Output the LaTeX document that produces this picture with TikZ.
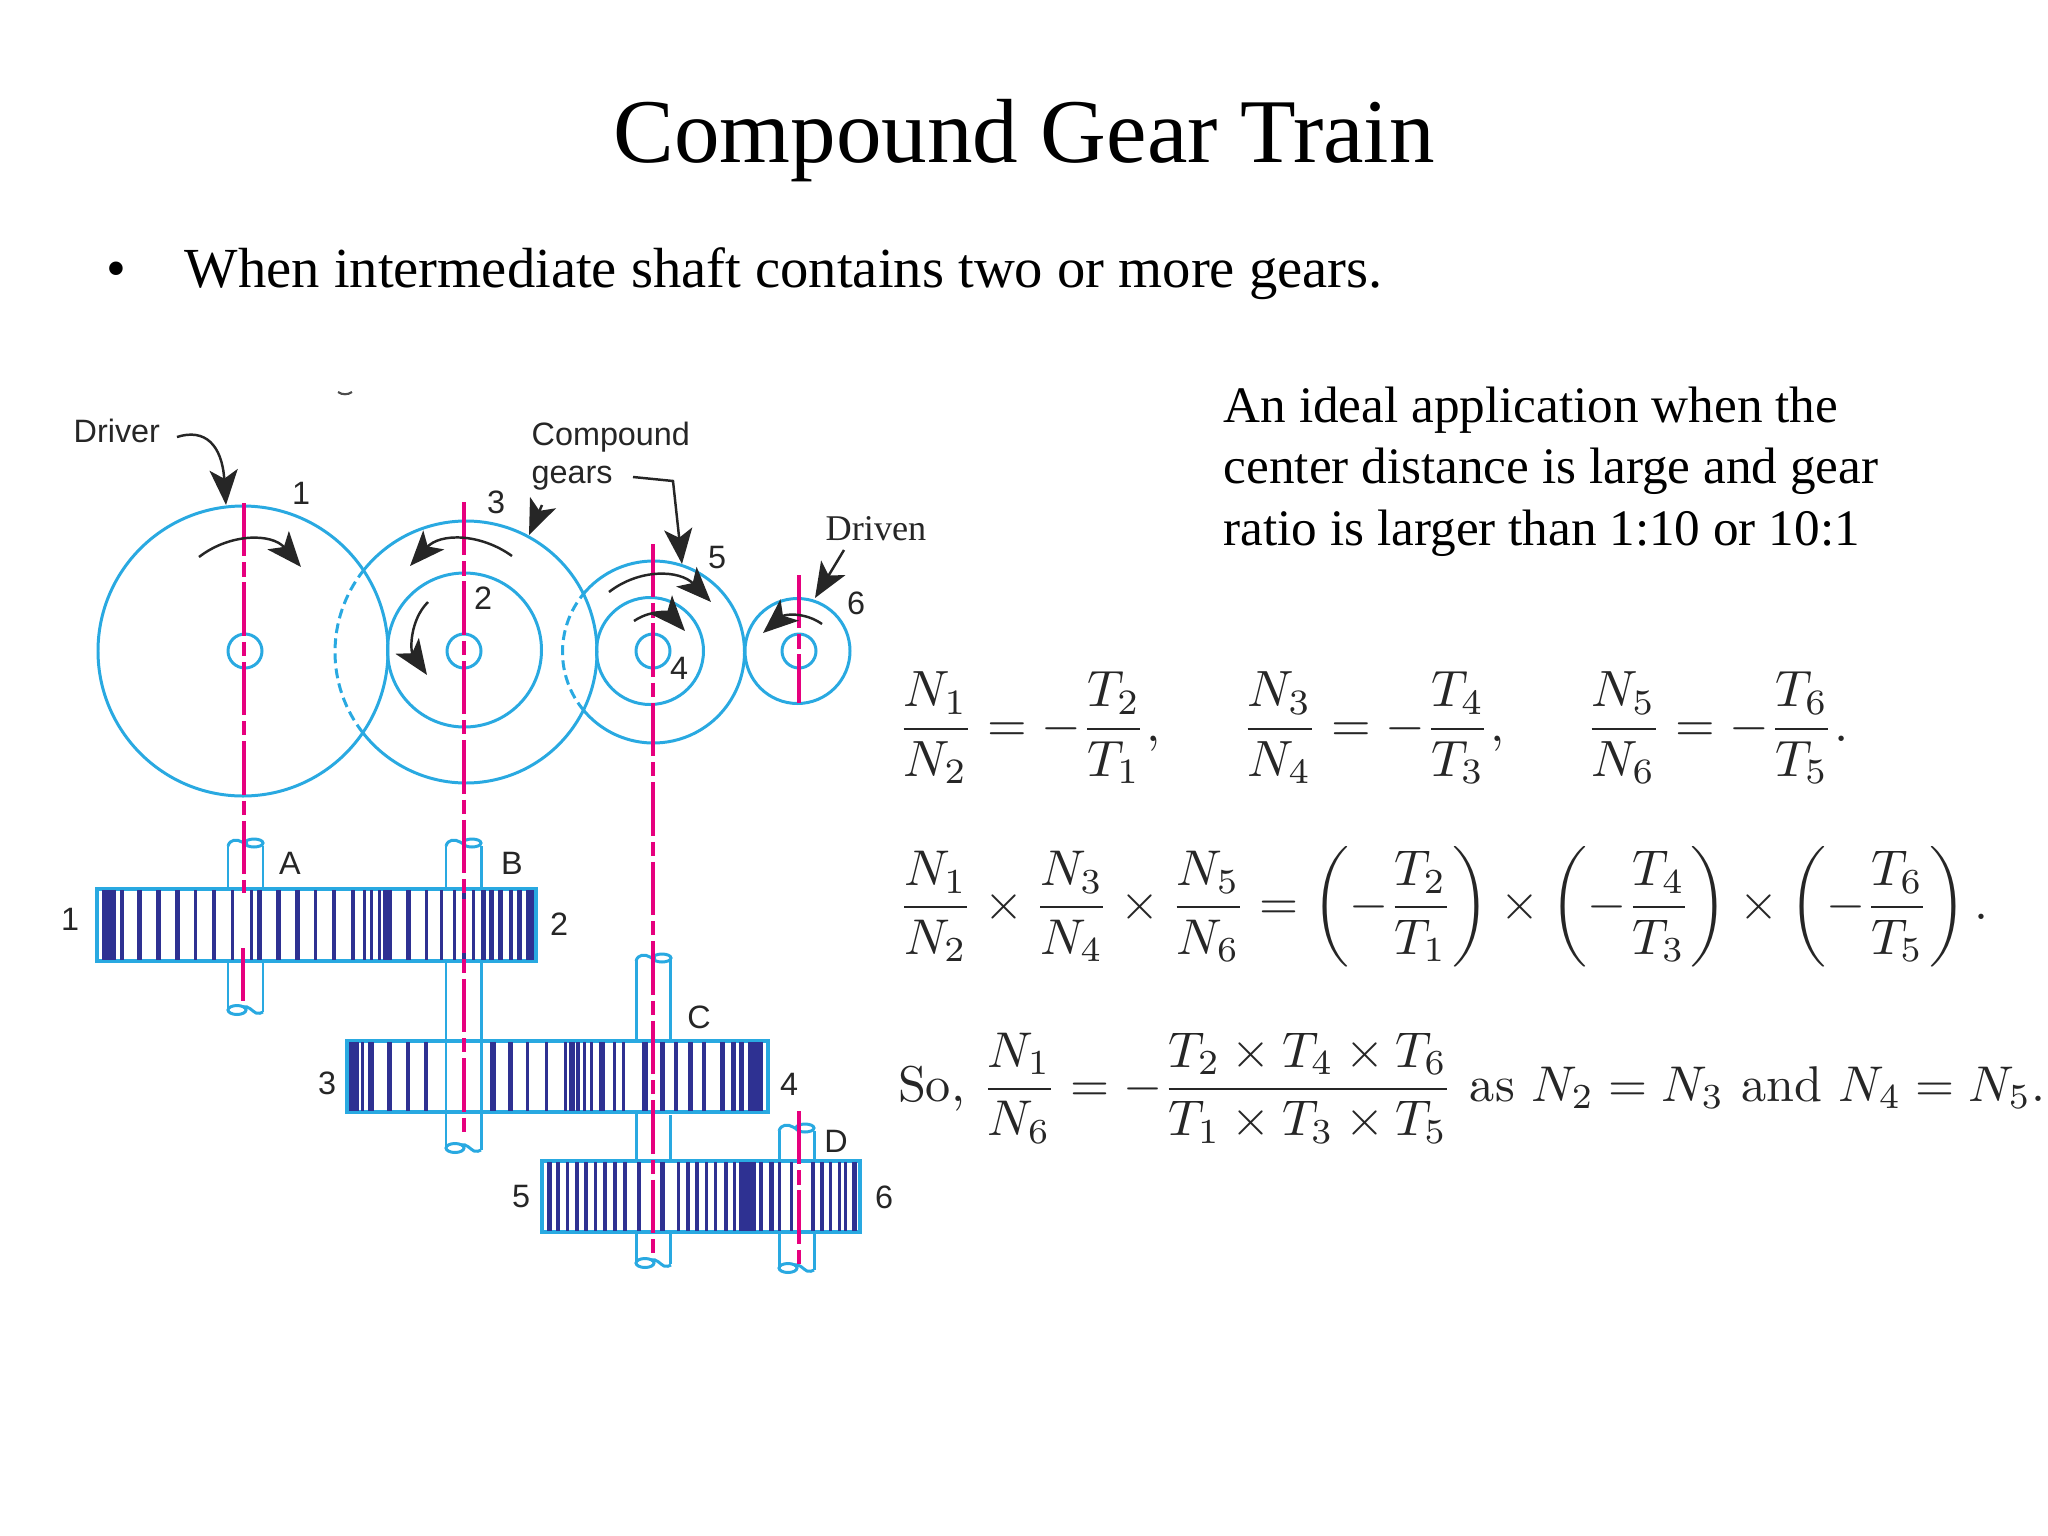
\documentclass[tikz,border=0pt]{standalone}
\usepackage{amsmath}
\usepackage{fontspec}
\usetikzlibrary{arrows.meta}
\newfontfamily\tnr{Liberation Serif}
\newfontfamily\arl{Liberation Sans}
\definecolor{gearblue}{HTML}{29A9E1}
\definecolor{axispink}{HTML}{E6007E}
\definecolor{barnavy}{HTML}{2E3192}
\tikzset{
  gearline/.style={draw=gearblue,line width=0.85pt},
  hiddenline/.style={draw=gearblue,line width=0.85pt,dash pattern=on 2.8pt off 1.5pt},
  rimline/.style={draw=gearblue,line width=1pt},
  axisline/.style={draw=axispink,line width=1.3pt,dash pattern=on 15.2pt off 1.7pt on 4pt off 1.7pt},
  turnarrow/.style={draw=black!85,line width=0.7pt,-{Stealth[length=10pt,width=8pt,inset=2.5pt]}},
  lab/.style={font=\arl\fontsize{9.2}{11}\selectfont,text=black!85,inner sep=0pt},
  serlab/.style={font=\tnr\fontsize{10.3}{12}\selectfont,text=black!85,inner sep=0pt},
  eqn/.style={scale=1.45,inner sep=0pt,text=black!85},
}
\newcommand{\shaftTop}[2]{%
  \begin{scope}[shift={(#1,#2)}]
    \draw[gearline] (0,4) .. controls (2,-3) and (9,-3) .. (14,0) .. controls (17,2) and (18,2) .. (20,1);
    \draw[gearline] (26,1) ellipse [x radius=9,y radius=4];
  \end{scope}}
\newcommand{\shaftBot}[2]{%
  \begin{scope}[shift={(#1,#2)}]
    \draw[gearline] (9,-2) ellipse [x radius=9,y radius=4.5];
    \draw[gearline] (15,-5) .. controls (20,-7) and (24,-1) .. (28,1) .. controls (31,2) and (33,1) .. (35,0);
  \end{scope}}
\begin{document}
\begin{tikzpicture}[x=0.01cm,y=-0.01cm]
\useasboundingbox (0,0) rectangle (2048,1536);
\fill[white] (0,0) rectangle (2048,1536);

% Title and text
\node[anchor=base,inner sep=0pt,font=\tnr\fontsize{25.9}{30}\selectfont] (title) at (1024,162) {Compound Gear Train};
\node[anchor=base,inner sep=0pt,font=\tnr\fontsize{16.1}{19}\selectfont] (bullet) at (116,287) {•};
\node[anchor=base west,inner sep=0pt,font=\tnr\fontsize{16.1}{19}\selectfont] (sub) at (184,287) {When intermediate shaft contains two or more gears.};
\node[anchor=base west,inner sep=0pt,font=\tnr\fontsize{14.56}{17}\selectfont] (ideal1) at (1223,422) {An ideal application when the};
\node[anchor=base west,inner sep=0pt,font=\tnr\fontsize{14.56}{17}\selectfont] (ideal2) at (1223,483) {center distance is large and gear};
\node[anchor=base west,inner sep=0pt,font=\tnr\fontsize{14.56}{17}\selectfont] (ideal3) at (1223,545) {ratio is larger than 1:10 or 10:1};

% Face view gears
\draw[gearline] (243,651) circle[radius=145];
\draw[gearline] (245,651) circle[radius=17];
\draw[gearline] (466,652) ++(-142:131) arc[start angle=-142,end angle=142,radius=131];
\draw[hiddenline] (466,652) ++(142:131) arc[start angle=142,end angle=218,radius=131];
\draw[gearline] (464.5,650) circle[radius=77];
\draw[gearline] (464,651) circle[radius=17];
\draw[gearline] (653.5,652) ++(-140:91) arc[start angle=-140,end angle=140,radius=91];
\draw[hiddenline] (653.5,652) ++(140:91) arc[start angle=140,end angle=220,radius=91];
\draw[gearline] (650,651) circle[radius=53.5];
\draw[gearline] (653,651) circle[radius=17];
\draw[gearline] (797.5,651) circle[radius=52.5];
\draw[gearline] (799,651) circle[radius=17];

% Shafts (behind the gear blanks)
\draw[gearline] (228,846) -- (228,1010); \draw[gearline] (263,846) -- (263,1012);
\draw[gearline] (446,846) -- (446,1148); \draw[gearline] (481,846) -- (481,1150);
\draw[gearline] (636,960) -- (636,1262); \draw[gearline] (670,960) -- (670,1112);
\draw[gearline] (670,1115) -- (670,1264);
\draw[gearline] (779,1131) -- (779,1268); \draw[gearline] (814,1131) -- (814,1270);
\shaftTop{228}{842}\shaftBot{228}{1012}
\shaftTop{446}{842}\shaftBot{446}{1150}
\shaftTop{636}{957}\shaftBot{636}{1265}
\shaftTop{779}{1127}\shaftBot{779}{1270}

% Gear blanks
\filldraw[fill=white,rimline] (97,889) rectangle (536,961);
\foreach \a/\b in {155/198,210/221,261/277,318/333,375/390,431/441,487/497,543/553,600/610,622/637,679/694,735/751,792/801,847/857,904/914,938/948,961/969,983/993,999/1027,1067/1082,1124/1134,1170/1179,1208/1218,1237/1247,1265/1275,1293/1308,1316/1331,1343/1359,1377/1389,1400/1416,1428/1452}
  \fill[barnavy] ({\a/3+50},890) rectangle ({\b/3+50},960);

\filldraw[fill=white,rimline] (347,1041) rectangle (768,1112);
\foreach \a/\b in {76/102,106/114,126/140,176/189,225/234,273/282,444/460,490/504,538/547,588/597,637/645,651/666,670/680,686/695,706/714,730/745,766/774,788/798,842/858,888/901,926/936,961/975,999/1008,1045/1058,1074/1087,1094/1107,1118/1158}
  \fill[barnavy] ({\a/2.613+320},1042) rectangle ({\b/2.613+320},1111);
\draw[gearline] (446,1041) -- (446,1112); \draw[gearline] (481,1041) -- (481,1112);

\filldraw[fill=white,rimline] (542,1161) rectangle (860,1232);
\foreach \a/\b in {592/607,617/627,642/651,666/676,690/700,715/725,740/750,765/775,793/803,828/838,888/901,933/941,957/966,981/990,1005/1013,1030/1038,1056/1065,1080/1088,1095/1138,1148/1158,1172/1186,1196/1204,1227/1236,1284/1293,1307/1318,1330/1339,1354/1362,1370/1378,1390/1404}
  \fill[barnavy] ({\a/2.613+320},1162) rectangle ({\b/2.613+320},1231);

% Centre lines
\draw[axisline] (244,503) -- (244,893);
\draw[axisline] (243,948) -- (243,1003);
\draw[axisline] (464,502) -- (464,1137);
\draw[axisline] (653,544) -- (653,1258);
\draw[axisline] (799,575) -- (799,703);
\draw[axisline] (799,1111) -- (799,1265);

% Arrows
\coordinate (drvS) at (177,437); \coordinate (drvE) at (226,505);
\draw[turnarrow] (drvS) .. controls (205,428) and (222,445) .. (drvE);
\coordinate (cgS) at (542,505); \coordinate (cgE) at (529,535);
\draw[turnarrow] (cgS) -- (cgE);
\coordinate (cg2) at (633,477); \coordinate (cg2b) at (673,481); \coordinate (cg2e) at (682,564);
\draw[turnarrow] (cg2) -- (cg2b) -- (cg2e);
\coordinate (dnS) at (844,550); \coordinate (dnE) at (815,598);
\draw[turnarrow] (dnS) -- (dnE);
\coordinate (r1S) at (199,557); \coordinate (r1E) at (301,567);
\draw[turnarrow] (r1S) .. controls (230,533) and (272,533) .. (r1E);
\coordinate (r3S) at (512,556); \coordinate (r3E) at (410,566);
\draw[turnarrow] (r3S) .. controls (480,533) and (440,533) .. (r3E);
\coordinate (r2S) at (428,602); \coordinate (r2E) at (427,675);
\draw[turnarrow] (r2S) .. controls (410,620) and (410,650) .. (r2E);
\coordinate (r5S) at (609,592); \coordinate (r5E) at (711,602);
\draw[turnarrow] (r5S) .. controls (640,568) and (680,570) .. (r5E);
\coordinate (r4S) at (634,621); \coordinate (r4E) at (685,631);
\draw[turnarrow] (r4S) .. controls (650,610) and (668,612) .. (r4E);
\coordinate (r6S) at (822,624); \coordinate (r6E) at (763,633);
\draw[turnarrow] (r6S) .. controls (805,612) and (785,614) .. (r6E);
\draw[black!70,line width=0.6pt] (338,392) .. controls (342,395) and (348,395) .. (352,392);

% Labels
\node[lab,anchor=base west] (driver) at (73,442) {Driver};
\node[lab,anchor=base west] (compound) at (531,445) {Compound};
\node[lab,anchor=base west] (gears) at (531,483) {gears};
\node[serlab] (driven) at (876,529) {Driven};
\node[lab] (f1) at (301,493) {1};
\node[lab] (f3) at (496,502) {3};
\node[lab] (f2) at (483,598) {2};
\node[lab] (f5) at (717,558) {5};
\node[lab] (f4) at (679,668) {4};
\node[lab] (f6) at (856,603) {6};
\node[lab] (sA) at (290,863) {A};
\node[lab] (sB) at (512,863) {B};
\node[lab] (sC) at (699,1017) {C};
\node[lab] (sD) at (836,1141) {D};
\node[lab] (t1) at (70,919) {1};
\node[lab] (t2) at (559,924) {2};
\node[lab] (t3) at (327,1083) {3};
\node[lab] (t4) at (789,1084) {4};
\node[lab] (t5) at (521,1197) {5};
\node[lab] (t6) at (884,1197) {6};

% Equations
\node[eqn] (eq1) at (1029,728) {$\displaystyle \frac{N_1}{N_2}=-\frac{T_2}{T_1},$};
\node[eqn] (eq2) at (1373,728) {$\displaystyle \frac{N_3}{N_4}=-\frac{T_4}{T_3},$};
\node[eqn] (eq3) at (1717,728) {$\displaystyle \frac{N_5}{N_6}=-\frac{T_6}{T_5}.$};
\node[eqn,anchor=west,scale=0.985] (eq4) at (897,907) {$\displaystyle \frac{N_1}{N_2}\times\frac{N_3}{N_4}\times\frac{N_5}{N_6}=\left(-\frac{T_2}{T_1}\right)\times\left(-\frac{T_4}{T_3}\right)\times\left(-\frac{T_6}{T_5}\right).$};
\node[eqn,anchor=west,scale=0.985] (eq5) at (897,1088) {So, $\displaystyle \frac{N_1}{N_6}=-\frac{T_2\times T_4\times T_6}{T_1\times T_3\times T_5}$ as $N_2=N_3$ and $N_4=N_5$.};
\end{tikzpicture}
\end{document}
